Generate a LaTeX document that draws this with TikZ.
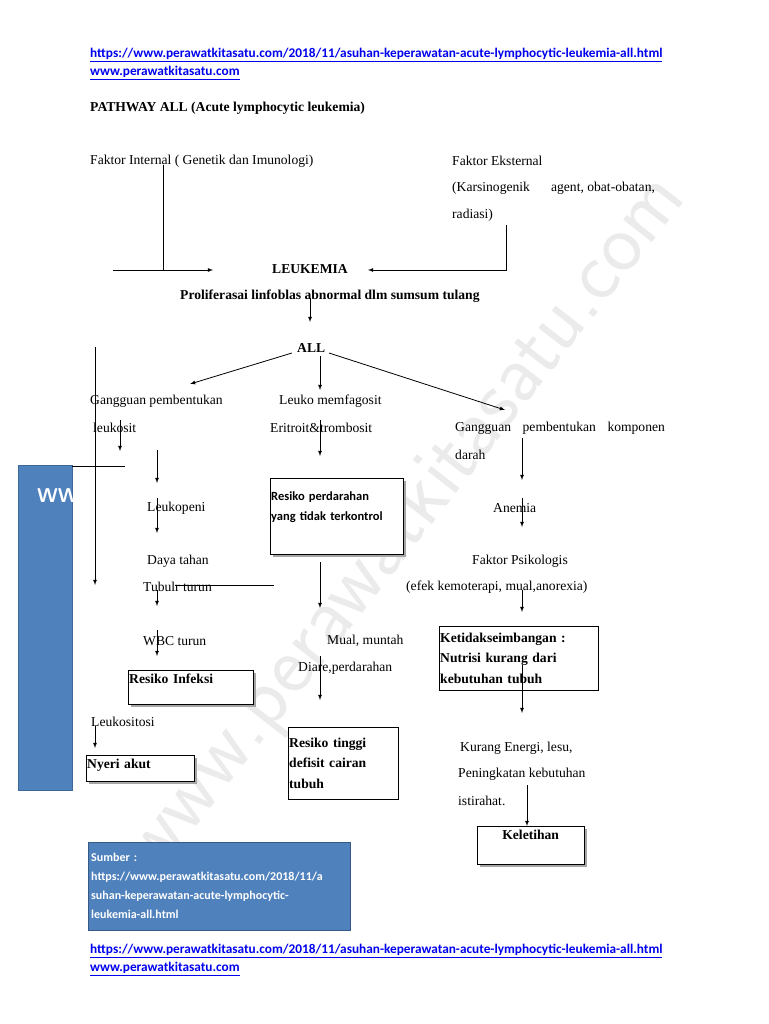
\documentclass[tikz,border=0pt]{standalone}
\usepackage{fontspec}
\setmainfont{Liberation Serif}
\newfontfamily\calfont{Carlito}
\usetikzlibrary{shadows}
\definecolor{lnk}{HTML}{0000EE}
\definecolor{bluebox}{HTML}{4F81BD}
\begin{document}
\begin{tikzpicture}[x=1pt,y=-1pt,
 t/.style={anchor=west,inner sep=0pt,font=\fontsize{13.6}{15}\selectfont},
 tb/.style={t,font=\fontsize{13.6}{15}\selectfont\bfseries},
 lk/.style={anchor=west,inner sep=0pt,font=\calfont\fontsize{13.3}{15}\selectfont\bfseries,text=lnk},
 box/.style={draw,fill=white,anchor=north west,inner sep=1pt,align=left},
 sbox/.style={box,drop shadow={shadow xshift=3pt,shadow yshift=-3pt,fill=gray!70,opacity=1}},
 ar/.style={-latex,thick},
 ln/.style={thin}]
\useasboundingbox (0,0) rectangle (768,1024);
\fill[white] (0,0) rectangle (768,1024);
% watermark
\node[rotate=52,text=gray!16,font=\fontsize{84}{84}\selectfont\sffamily] (wm) at (405,525) {www.perawatkitasatu.com};
% blue side box
\node[fill=bluebox,draw=bluebox!80!black,anchor=north west,minimum width=54,minimum height=325,inner sep=0] (side) at (18,465) {};
\node[anchor=west,text=white,font=\sffamily\bfseries\fontsize{20}{20}\selectfont,inner sep=0] (sidet) at (37,496) {WW};
% links
\node[lk] (l1) at (90,55) {\underline{https://www.perawatkitasatu.com/2018/11/asuhan-keperawatan-acute-lymphocytic-leukemia-all.html}};
\node[lk] (l2) at (90,73) {\underline{www.perawatkitasatu.com}};
\node[tb] (title) at (90,108) {PATHWAY ALL (Acute lymphocytic leukemia)};
\node[t] (fi) at (90,161) {Faktor Internal ( Genetik dan Imunologi)};
\node[t] (fe1) at (452,161) {Faktor Eksternal};
\node[t] (fe2) at (452,188) {(Karsinogenik\hspace{1.3em} agent, obat-obatan,};
\node[t] (fe3) at (452,215) {radiasi)};
\coordinate (a1) at (163,165); \coordinate (a2) at (163,270);
\coordinate (a3) at (113,270); \coordinate (a4) at (213,270);
\draw[ln] (a1)--(a2); \draw[ar] (a3)--(a4);
\coordinate (b1) at (506,225); \coordinate (b2) at (506,270); \coordinate (b3) at (368,270);
\draw[ar] (b1)--(b2)--(b3);
\node[tb] (leuk) at (272,269) {LEUKEMIA};
\node[tb] (prol) at (180,296) {Proliferasai linfoblas abnormal dlm sumsum tulang};
\coordinate (c1) at (310,298); \coordinate (c2) at (310,322);
\draw[ar] (c1)--(c2);
\node[tb] (all) at (297,348) {ALL};
\coordinate (d0) at (292,353); \coordinate (d1) at (190,384);
\coordinate (e0) at (320,356); \coordinate (e1) at (320,390);
\coordinate (f0) at (329,353); \coordinate (f1) at (505,410);
\draw[ar] (d0)--(d1); \draw[ar] (e0)--(e1); \draw[ar] (f0)--(f1);
\node[t] (gp1) at (90,401) {Gangguan pembentukan};
\node[t] (gp2) at (93,428) {leukosit};
\node[t] (lm1) at (279,401) {Leuko memfagosit};
\node[t] (lm2) at (270,428) {Eritroit\&trombosit};
\node[t] (gk1) at (455,428) {Gangguan\hspace{0.6em} pembentukan\hspace{0.6em} komponen};
\node[t] (gk2) at (455,455) {darah};
% left column
\coordinate (g1) at (95,347); \coordinate (g2) at (95,585); \draw[ar] (g1)--(g2);
\coordinate (h1) at (120,420); \coordinate (h2) at (120,451); \draw[ar] (h1)--(h2);
\coordinate (i1) at (72,466); \coordinate (i2) at (125,466); \draw[ln] (i1)--(i2);
\coordinate (j1) at (157,450); \coordinate (j2) at (157,483); \draw[ar] (j1)--(j2);
\node[t] (leukop) at (147,508) {Leukopeni};
\coordinate (k1) at (157,498); \coordinate (k2) at (157,533); \draw[ar] (k1)--(k2);
\node[t] (daya) at (147,561) {Daya tahan};
\node[t] (tub) at (143,587) {Tubulr turun};
\coordinate (m1) at (175,585); \coordinate (m2) at (274,585); \draw[ln] (m1)--(m2);
\coordinate (n1) at (157,590); \coordinate (n2) at (157,606); \draw[ar] (n1)--(n2);
\node[t] (wbc) at (143,641) {WBC turun};
\coordinate (o1) at (157,630); \coordinate (o2) at (157,656); \draw[ar] (o1)--(o2);
\node[sbox,text width=123,text height=12,text depth=20,font=\fontsize{13.6}{15}\selectfont\bfseries] (ri) at (128,670) {Resiko Infeksi};
\node[t] (lks) at (91,722) {Leukositosi};
\coordinate (p1) at (95,726); \coordinate (p2) at (95,748); \draw[ar] (p1)--(p2);
\node[sbox,text width=106,text height=12,text depth=12,font=\fontsize{13.6}{15}\selectfont\bfseries] (na) at (86,755) {Nyeri akut};
% middle column
\coordinate (q1) at (320,420); \coordinate (q2) at (320,456); \draw[ar] (q1)--(q2);
\node[sbox,text width=131,minimum height=76,font=\calfont\fontsize{12.5}{20}\selectfont\bfseries] (rp) at (270,478) {Resiko perdarahan\\yang tidak terkontrol\\\mbox{}};
\coordinate (r1) at (320,562); \coordinate (r2) at (320,608); \draw[ar] (r1)--(r2);
\node[t] (mual) at (327,641) {Mual, muntah};
\node[t] (diare) at (298,668) {Diare,perdarahan};
\coordinate (s1) at (320,656); \coordinate (s2) at (320,700); \draw[ar] (s1)--(s2);
\node[box,text width=108,minimum height=72,font=\fontsize{13.6}{20.5}\selectfont\bfseries] (rt) at (288,727) {Resiko tinggi\\defisit cairan\\tubuh};
% right column
\coordinate (u1) at (522,438); \coordinate (u2) at (522,480); \draw[ar] (u1)--(u2);
\node[t] (anem) at (493,508) {Anemia};
\coordinate (v1) at (522,498); \coordinate (v2) at (522,527); \draw[ar] (v1)--(v2);
\node[t] (fp) at (472,561) {Faktor Psikologis};
\node[t] (efek) at (406,587) {(efek kemoterapi, mual,anorexia)};
\coordinate (w1) at (522,590); \coordinate (w2) at (522,612); \draw[ar] (w1)--(w2);
\node[box,text width=157,minimum height=64,font=\fontsize{13.6}{20.5}\selectfont\bfseries] (kt) at (439,626) {Ketidakseimbangan :\\Nutrisi kurang dari\\kebutuhan tubuh};
\coordinate (x1) at (522,665); \coordinate (x2) at (522,713); \draw[ar] (x1)--(x2);
\node[t] (ke1) at (460,748) {Kurang Energi, lesu,};
\node[t] (ke2) at (458,774) {Peningkatan kebutuhan};
\node[t] (ke3) at (458,801) {istirahat.};
\coordinate (y1) at (527,785); \coordinate (y2) at (527,826); \draw[ar] (y1)--(y2);
\node[sbox,text width=105,text height=12,text depth=24,align=center,font=\fontsize{13.6}{15}\selectfont\bfseries] (kel) at (477,826) {Keletihan};
% sumber
\node[fill=bluebox,draw=bluebox!70!black,anchor=north west,minimum width=262,minimum height=88,text width=256,inner sep=3pt,align=left,text=white,font=\calfont\fontsize{12}{19}\selectfont\bfseries] (sum) at (88,842) {Sumber :\\https://www.perawatkitasatu.com/2018/11/a\\suhan-keperawatan-acute-lymphocytic-\\leukemia-all.html};
\node[lk] (l3) at (90,951) {\underline{https://www.perawatkitasatu.com/2018/11/asuhan-keperawatan-acute-lymphocytic-leukemia-all.html}};
\node[lk] (l4) at (90,969) {\underline{www.perawatkitasatu.com}};
\end{tikzpicture}
\end{document}
